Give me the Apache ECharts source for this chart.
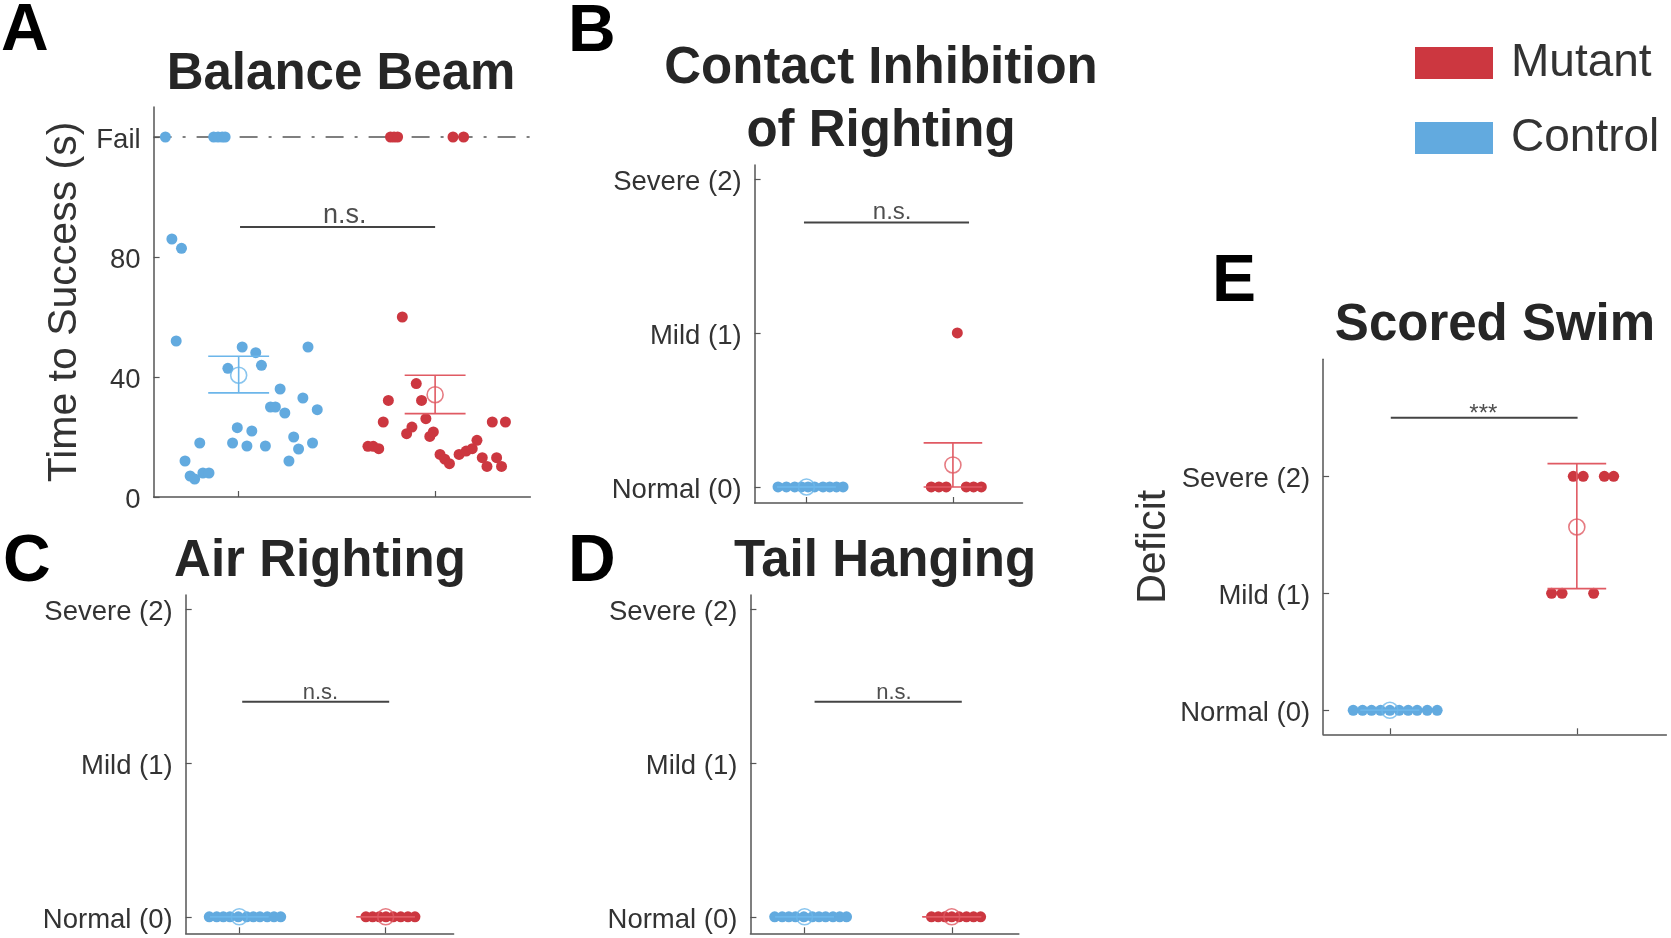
<!DOCTYPE html>
<html>
<head>
<meta charset="utf-8">
<script src="https://cdn.jsdelivr.net/npm/echarts@6/dist/echarts.min.js"></script>
<style>
html,body{margin:0;padding:0;background:#fff;}
#c{width:1671px;height:938px;}
</style>
</head>
<body>
<div id="c"></div>
<script>
// ---------------- DATA ----------------
const groupNames = ['Control', 'Mutant'];
const groupPositions = [1, 2];

const failValue = 120;
const beamTicks = [0, 40, 80, 120];
const beamTickLabels = ['0', '40', '80', 'Fail'];
const scoreTicks = [0, 1, 2];
const scoreTickLabels = ['Normal (0)', 'Mild (1)', 'Severe (2)'];

// Balance Beam: [jittered group position, time (s)]  (120 = Fail)
const beamControl = [
  [0.627,120],[0.873,120],[0.895,120],[0.916,120],[0.931,120],
  [0.66,86],[0.709,82.9],[0.682,52],[1.018,50],[1.087,48.1],[1.116,43.9],[0.945,42.9],
  [1.211,36],[1.353,50],[1.327,33],[1.4,29.1],[1.162,30],[1.187,30],[1.235,28],
  [0.993,23.1],[1.067,22],[0.969,18],[1.042,17],[1.136,17],[1.28,20],[1.376,18],
  [1.305,16],[1.256,12],[0.802,18],[0.727,12],[0.753,7],[0.776,6],[0.818,8],[0.849,8]
];
const beamMutant = [
  [1.773,120],[1.791,120],[1.809,120],[2.091,120],[2.145,120],
  [1.833,60],[1.904,37.8],[1.762,32.2],[1.931,32.2],[1.736,25],[1.953,26.1],[1.882,23.3],
  [1.855,21.1],[1.973,20.2],[1.991,21.7],[1.658,16.9],[1.685,16.9],[1.713,16.1],
  [2.025,14.2],[2.049,12.6],[2.073,11.1],[2.122,14.2],[2.158,15.3],[2.189,16.1],
  [2.213,18.9],[2.24,13.1],[2.264,10.2],[2.313,13.1],[2.338,10.2],[2.291,25],[2.358,25]
];
const beamMeans = [40.6, 34.1];
const beamErrLow = [34.7, 27.8];
const beamErrHigh = [46.9, 40.6];

// Contact Inhibition of Righting: [jittered group position, score]
const contactControl = [
  [0.806,0],[0.863,0],[0.92,0],[0.966,0],[1.011,0],[1.056,0],[1.113,0],[1.159,0],[1.205,0],[1.25,0]
];
const contactMutant = [
  [1.852,0],[1.904,0],[1.954,0],[2.091,0],[2.141,0],[2.194,0],[2.03,1]
];
const contactMeans = [0, 0.143];
const contactErrLow = [0, 0];
const contactErrHigh = [0, 0.286];

// Air Righting
const airControl = [
  [0.795,0],[0.846,0],[0.891,0],[0.936,0],[0.993,0],[1.051,0],[1.096,0],[1.141,0],[1.191,0],[1.237,0],[1.283,0]
];
const airMutant = [
  [1.865,0],[1.911,0],[1.956,0],[2.002,0],[2.052,0],[2.103,0],[2.152,0],[2.2,0]
];
const airMeans = [0, 0];
const airErrLow = [0, 0];
const airErrHigh = [0, 0];

// Tail Hanging
const tailControl = [
  [0.797,0],[0.848,0],[0.893,0],[0.938,0],[0.995,0],[1.053,0],[1.098,0],[1.143,0],[1.193,0],[1.239,0],[1.285,0]
];
const tailMutant = [
  [1.862,0],[1.908,0],[1.953,0],[2.0,0],[2.05,0],[2.1,0],[2.148,0],[2.196,0]
];
const tailMeans = [0, 0];
const tailErrLow = [0, 0];
const tailErrHigh = [0, 0];

// Scored Swim
const swimControl = [
  [0.804,0],[0.854,0],[0.902,0],[0.95,0],[1.0,0],[1.05,0],[1.098,0],[1.146,0],[1.2,0],[1.253,0]
];
const swimMutant = [
  [1.981,2],[2.034,2],[2.147,2],[2.197,2],[1.865,1],[1.921,1],[2.09,1]
];
const swimMeans = [0, 1.567];
const swimErrLow = [0, 1.04];
const swimErrHigh = [0, 2.108];

// significance annotations per panel (A, B, C, D, E)
const sigLabels = ['n.s.', 'n.s.', 'n.s.', 'n.s.', '***'];
const sigFrom   = [1.007, 0.983, 1.02, 1.068, 1.005];
const sigTo     = [2.0, 2.11, 2.024, 2.068, 2.004];
const sigLevel  = [90, 1.717, 1.396, 1.396, 2.5];
const sigTextX  = [1.54, 1.585, 1.554, 1.607, 1.5];

const panelTitles = [['Balance Beam'], ['Contact Inhibition', 'of Righting'], ['Air Righting'], ['Tail Hanging'], ['Scored Swim']];
const panelLetters = ['A', 'B', 'C', 'D', 'E'];
const legendOrder = ['Mutant', 'Control'];

// ---------------- STYLE / LAYOUT ----------------
const FONT = '"Liberation Sans", Arial, Helvetica, sans-serif';
const dotColor = { Control: '#62aadf', Mutant: '#cc3740' };
const barColor = { Control: '#6cb6ea', Mutant: '#e05a63' };
const AXIS = '#555555';
const TXT = '#333333';

const panels = [
  { ctrl: beamControl, mut: beamMutant, means: beamMeans, lo: beamErrLow, hi: beamErrHigh,
    ticks: beamTicks, labels: beamTickLabels, yName: 'Time to Success (s)', nameGap: 68, fail: true,
    box: { left: 153.6, top: 107, width: 376.8, height: 390 }, xr: [0.567, 2.485], yr: [0, 130],
    cap: 0.155, sigFont: 27, sigDist: -2.5, title: { x: 341, y: [75] }, letter: { x: 1, y: 32 } },
  { ctrl: contactControl, mut: contactMutant, means: contactMeans, lo: contactErrLow, hi: contactErrHigh,
    ticks: scoreTicks, labels: scoreTickLabels, yName: '', nameGap: 0,
    box: { left: 754.6, top: 165, width: 267.9, height: 338 }, xr: [0.646, 2.475], yr: [-0.104, 2.09],
    cap: 0.2, sigFont: 24, sigDist: -2.5, title: { x: 881, y: [69, 132] }, letter: { x: 568, y: 33 } },
  { ctrl: airControl, mut: airMutant, means: airMeans, lo: airErrLow, hi: airErrHigh,
    ticks: scoreTicks, labels: scoreTickLabels, yName: '', nameGap: 0,
    box: { left: 185.7, top: 595, width: 267.9, height: 338.3 }, xr: [0.634, 2.464], yr: [-0.107, 2.09],
    cap: 0.2, sigFont: 22, sigDist: -2.5, title: { x: 320, y: [562] }, letter: { x: 3, y: 563 } },
  { ctrl: tailControl, mut: tailMutant, means: tailMeans, lo: tailErrLow, hi: tailErrHigh,
    ticks: scoreTicks, labels: scoreTickLabels, yName: '', nameGap: 0,
    box: { left: 750.4, top: 595, width: 268.5, height: 338.3 }, xr: [0.632, 2.456], yr: [-0.107, 2.09],
    cap: 0.2, sigFont: 22, sigDist: -2.5, title: { x: 885, y: [562] }, letter: { x: 568, y: 563 } },
  { ctrl: swimControl, mut: swimMutant, means: swimMeans, lo: swimErrLow, hi: swimErrHigh,
    ticks: scoreTicks, labels: scoreTickLabels, yName: 'Deficit', nameGap: 149,
    box: { left: 1323.1, top: 359.3, width: 343.3, height: 375 }, xr: [0.643, 2.479], yr: [-0.205, 3.0],
    cap: 0.157, sigFont: 24, sigDist: -9, title: { x: 1495, y: [326] }, letter: { x: 1212, y: 283 } }
];

function errRender(params, api) {
  const x = api.value(0), lo = api.value(1), hi = api.value(2), hw = api.value(3);
  const c = api.visual('color');
  const st = { stroke: c, lineWidth: 1.6, fill: null };
  const a = api.coord([x, lo]), b = api.coord([x, hi]);
  const l1 = api.coord([x - hw, lo]), r1 = api.coord([x + hw, lo]);
  const l2 = api.coord([x - hw, hi]), r2 = api.coord([x + hw, hi]);
  return { type: 'group', children: [
    { type: 'line', shape: { x1: a[0], y1: a[1], x2: b[0], y2: b[1] }, style: st },
    { type: 'line', shape: { x1: l1[0], y1: l1[1], x2: r1[0], y2: r1[1] }, style: st },
    { type: 'line', shape: { x1: l2[0], y1: l2[1], x2: r2[0], y2: r2[1] }, style: st }
  ]};
}

const grids = [], xAxes = [], yAxes = [], series = [], graphics = [];

panels.forEach((p, i) => {
  grids.push(Object.assign({ containLabel: false }, p.box));
  xAxes.push({
    gridIndex: i, type: 'value', min: p.xr[0], max: p.xr[1],
    axisLine: { show: true, onZero: false, lineStyle: { color: AXIS, width: 1.5 } },
    axisTick: { show: true, inside: true, length: 6, customValues: groupPositions, lineStyle: { color: AXIS, width: 1.2 } },
    axisLabel: { show: false }, splitLine: { show: false }
  });
  yAxes.push({
    gridIndex: i, type: 'value', min: p.yr[0], max: p.yr[1],
    axisLine: { show: true, onZero: false, lineStyle: { color: AXIS, width: 1.5 } },
    axisTick: { show: true, inside: true, length: 6, customValues: p.ticks, lineStyle: { color: AXIS, width: 1.2 } },
    axisLabel: {
      show: true, customValues: p.ticks, margin: 13, fontSize: 27.5, color: TXT, fontFamily: FONT,
      formatter: (v) => { const k = p.ticks.findIndex(t => Math.abs(t - v) < 1e-9); return k >= 0 ? '{t|' + p.labels[k] + '}' : ''; },
      rich: { t: { fontSize: 27.5, color: TXT, fontFamily: FONT, padding: [7, 0, 0, 0] } }
    },
    splitLine: { show: false },
    name: p.yName, nameLocation: 'middle', nameGap: p.nameGap,
    nameTextStyle: { fontSize: 41, color: TXT, fontFamily: FONT }
  });

  if (p.fail) {
    series.push({
      type: 'line', name: 'fail-line', xAxisIndex: i, yAxisIndex: i, data: [], z: 1, silent: true,
      markLine: { silent: true, z: 1, symbol: ['none', 'none'], label: { show: false },
        lineStyle: { type: [18, 11, 3, 11], color: '#555', width: 1.6 },
        emphasis: { disabled: true },
        data: [{ yAxis: failValue }] }
    });
  }

  [p.ctrl, p.mut].forEach((pts, g) => {
    const gname = groupNames[g];
    series.push({
      type: 'scatter', name: gname, xAxisIndex: i, yAxisIndex: i, data: pts,
      symbol: 'circle', symbolSize: 11, z: 3, silent: true,
      itemStyle: { color: dotColor[gname], opacity: 1 }
    });
  });

  groupNames.forEach((gname, g) => {
    series.push({
      type: 'custom', name: gname + ' error', xAxisIndex: i, yAxisIndex: i, z: 4, silent: true,
      itemStyle: { color: barColor[gname] },
      renderItem: errRender,
      data: [[groupPositions[g], p.lo[g], p.hi[g], p.cap]]
    });
    series.push({
      type: 'scatter', name: gname + ' mean', xAxisIndex: i, yAxisIndex: i, z: 5, silent: true,
      symbol: 'circle', symbolSize: 16,
      itemStyle: { color: 'rgba(0,0,0,0)', borderColor: barColor[gname], borderWidth: 1.6 },
      data: [[groupPositions[g], p.means[g]]]
    });
  });

  series.push({
    type: 'line', name: 'sig-bar', xAxisIndex: i, yAxisIndex: i, z: 4, silent: true,
    symbol: 'none', lineStyle: { color: '#444', width: 2 },
    data: [[sigFrom[i], sigLevel[i]], [sigTo[i], sigLevel[i]]]
  });
  series.push({
    type: 'scatter', name: 'sig-label', xAxisIndex: i, yAxisIndex: i, z: 4, silent: true,
    symbolSize: 1, itemStyle: { color: 'rgba(0,0,0,0)' },
    label: { show: true, position: 'top', distance: p.sigDist, formatter: sigLabels[i],
      fontSize: p.sigFont, color: '#222', fontFamily: FONT },
    data: [[sigTextX[i], sigLevel[i]]]
  });

  panelTitles[i].forEach((t, k) => {
    graphics.push({ type: 'text', x: p.title.x, y: p.title.y[k], silent: true,
      style: { text: t, font: 'bold 51px ' + FONT, fill: '#262626',
        textAlign: 'center', textVerticalAlign: 'middle', align: 'center', verticalAlign: 'middle' } });
  });
  graphics.push({ type: 'text', x: p.letter.x, y: p.letter.y, silent: true,
    style: { text: panelLetters[i], font: 'bold 66px ' + FONT, fill: '#000',
      textAlign: 'left', textVerticalAlign: 'middle', align: 'left', verticalAlign: 'middle' } });
});

const chart = echarts.init(document.getElementById('c'));
chart.setOption({
  animation: false,
  backgroundColor: '#fff',
  textStyle: { fontFamily: FONT },
  legend: {
    data: legendOrder, orient: 'vertical', left: 1415, top: 40, padding: 0,
    itemWidth: 78, itemHeight: 32, itemGap: 29, icon: 'rect', selectedMode: false,
    textStyle: { fontSize: 46, color: TXT, fontFamily: FONT, padding: [0, 0, 0, 13] }
  },
  grid: grids,
  xAxis: xAxes,
  yAxis: yAxes,
  graphic: graphics,
  series: series
});
</script>
</body>
</html>
